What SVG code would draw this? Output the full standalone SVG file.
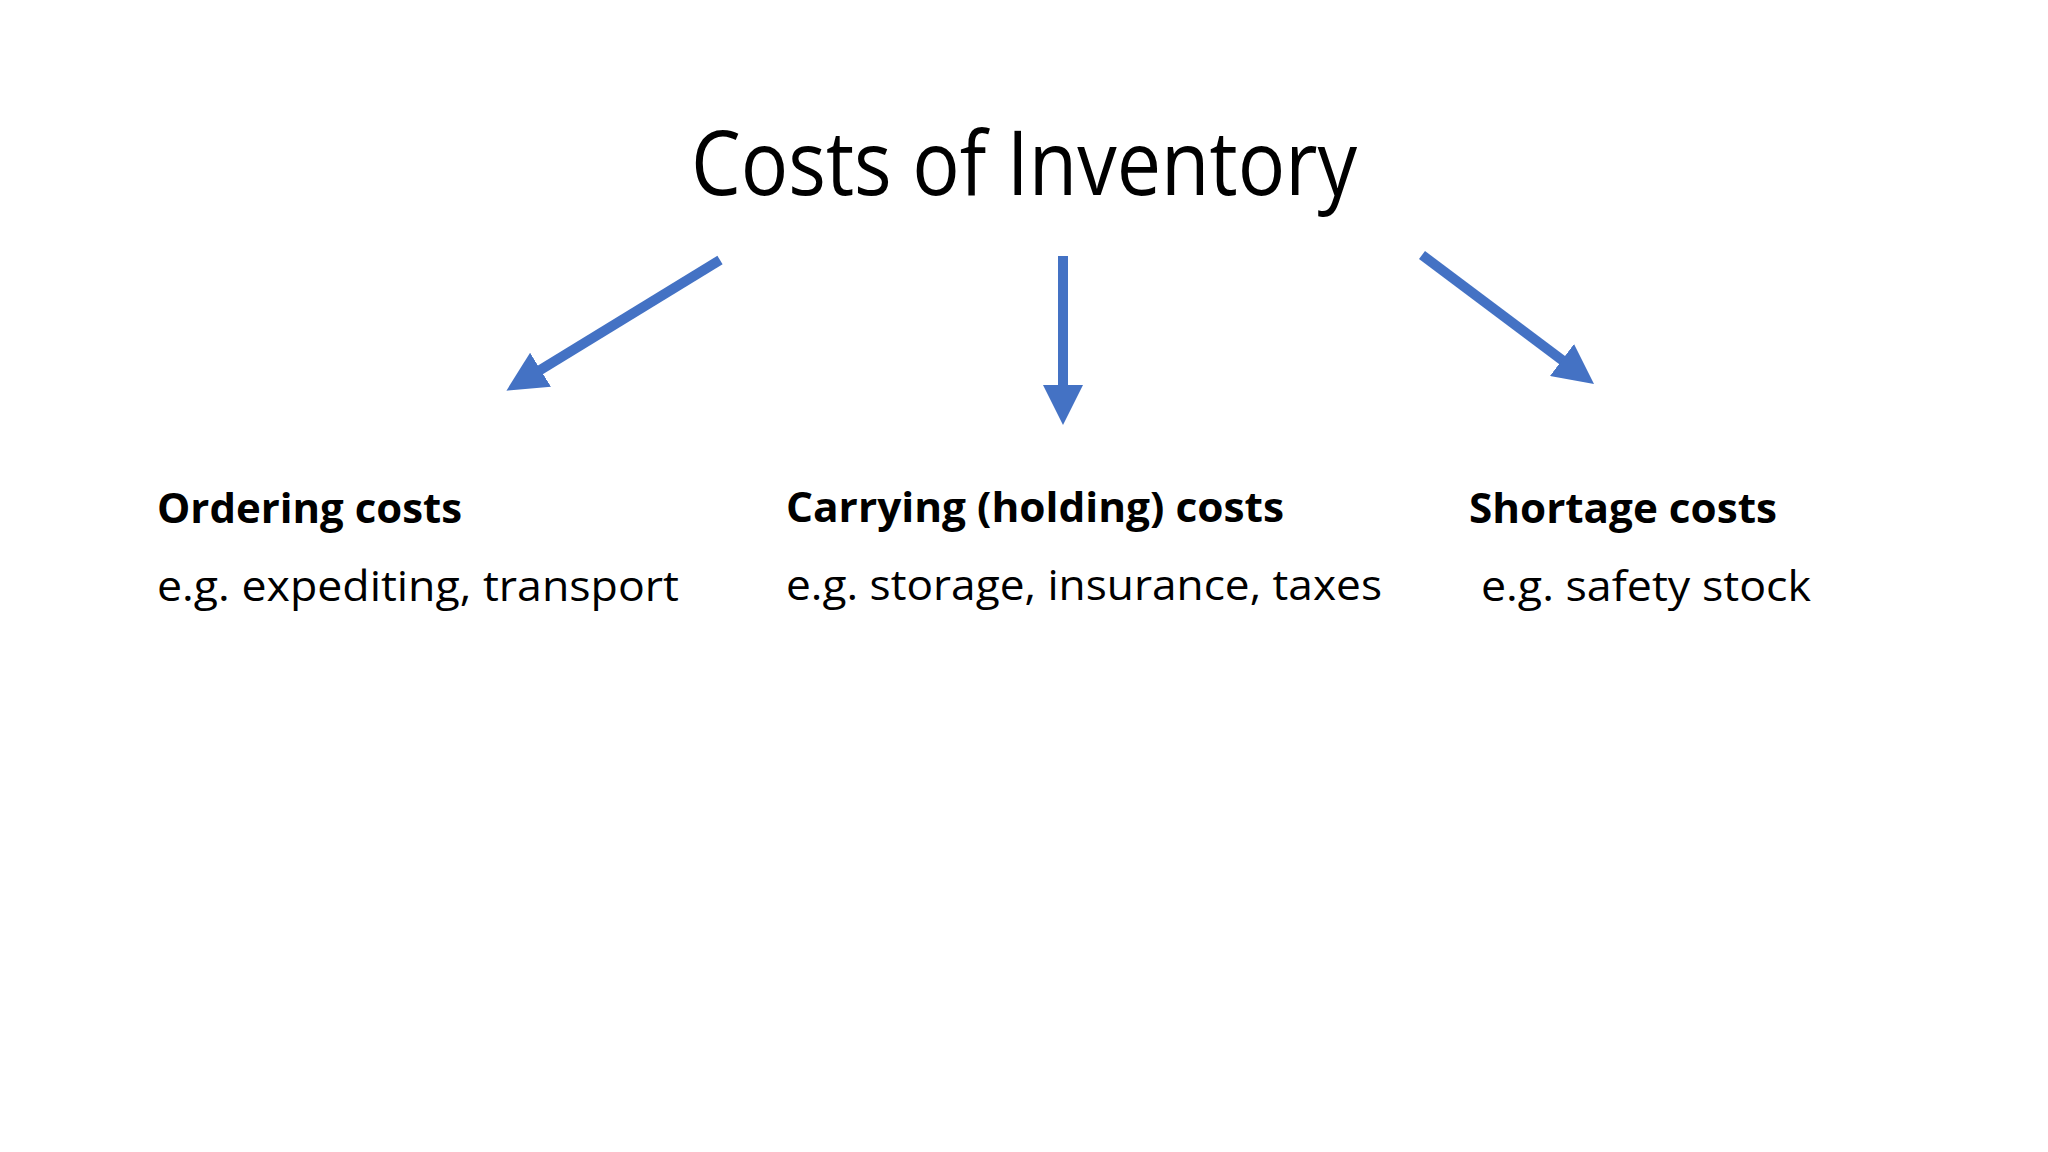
<svg xmlns="http://www.w3.org/2000/svg" width="2048" height="1152" viewBox="0 0 2048 1152">
<style>
text{font-family:"Open Sans","Liberation Sans",sans-serif;fill:#000}
.h{font-size:42px;font-weight:bold}
.b{font-size:42px}
.c{stroke:#4472C4;stroke-width:10;fill:none}
</style>
<defs><marker id="a" markerWidth="4" markerHeight="4" refX="1" refY="2" orient="auto" markerUnits="strokeWidth"><path d="M0,0 L4,2 L0,4 z" fill="#4472C4"/></marker></defs>
<rect width="2048" height="1152" fill="#fff"/>
<g id="title"><text x="1024" y="195" font-size="90" text-anchor="middle" textLength="666" lengthAdjust="spacingAndGlyphs">Costs of Inventory</text></g>
<g id="connectors">
<line class="c" x1="720" y1="260" x2="532" y2="375" marker-end="url(#a)"/>
<line class="c" x1="1063" y1="256" x2="1063" y2="395" marker-end="url(#a)"/>
<line class="c" x1="1422" y1="255" x2="1570" y2="366" marker-end="url(#a)"/>
</g>
<g id="ordering"><text class="h" x="157" y="523" textLength="305" lengthAdjust="spacingAndGlyphs">Ordering costs</text><text class="b" x="157" y="601" textLength="522" lengthAdjust="spacingAndGlyphs">e.g. expediting, transport</text></g>
<g id="carrying"><text class="h" x="786" y="522" textLength="498" lengthAdjust="spacingAndGlyphs">Carrying (holding) costs</text><text class="b" x="786" y="600" textLength="596" lengthAdjust="spacingAndGlyphs">e.g. storage, insurance, taxes</text></g>
<g id="shortage"><text class="h" x="1469" y="523" textLength="308" lengthAdjust="spacingAndGlyphs">Shortage costs</text><text class="b" x="1481" y="601" textLength="330" lengthAdjust="spacingAndGlyphs">e.g. safety stock</text></g>
</svg>
